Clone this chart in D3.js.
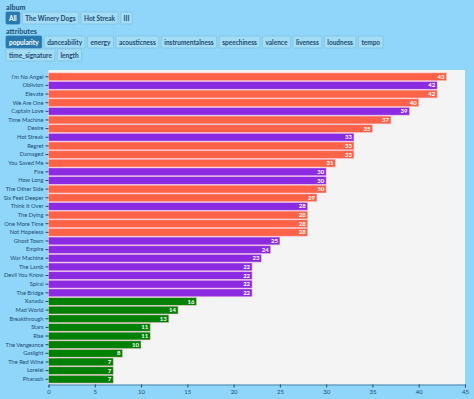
<!DOCTYPE html>
<html><head><meta charset="utf-8">
<script src="https://cdn.jsdelivr.net/npm/d3@7"></script>
<style>
html,body{margin:0;padding:0;background:#8fd6fa;}
svg{display:block;font-family:Lato,"Noto Sans",sans-serif;}
</style></head><body>
<svg id="c" width="474" height="399"></svg>
<script>
const songs = ["I'm No Angel","Oblivion","Elevate","We Are One","Captain Love","Time Machine","Desire","Hot Streak","Regret","Damaged","You Saved Me","Fire","How Long","The Other Side","Six Feet Deeper","Think It Over","The Dying","One More Time","Not Hopeless","Ghost Town","Empire","War Machine","The Lamb","Devil You Know","Spiral","The Bridge","Xanadu","Mad World","Breakthrough","Stars","Rise","The Vengeance","Gaslight","The Red Wine","Lorelei","Pharaoh"];
const popularity = [43,42,42,40,39,37,35,33,33,33,31,30,30,30,29,28,28,28,28,25,24,23,22,22,22,22,16,14,13,11,11,10,8,7,7,7];
const albums = ["The Winery Dogs","Hot Streak","The Winery Dogs","The Winery Dogs","Hot Streak","The Winery Dogs","The Winery Dogs","Hot Streak","The Winery Dogs","The Winery Dogs","The Winery Dogs","Hot Streak","Hot Streak","The Winery Dogs","The Winery Dogs","Hot Streak","The Winery Dogs","The Winery Dogs","The Winery Dogs","Hot Streak","Hot Streak","Hot Streak","Hot Streak","Hot Streak","Hot Streak","Hot Streak","III","III","III","III","III","III","III","III","III","III"];
const albumNames = ["The Winery Dogs","Hot Streak","III"];
const albumColors = ["#ff6347","#8a2be2","#008000"];
const albumButtons = ["All","The Winery Dogs","Hot Streak","III"];
const attrRow1 = ["popularity","danceability","energy","acousticness","instrumentalness","speechiness","valence","liveness","loudness","tempo"];
const attrRow2 = ["time_signature","length"];
const xTicks = [0,5,10,15,20,25,30,35,40,45];

const data = songs.map((s,i)=>({song:s,value:popularity[i],album:albums[i]}));
const svg = d3.select("#c");
const textCol = "#1d4a72";

// controls
function buttonRow(labels, x0, y0, selected){
  let x = x0;
  labels.forEach(l=>{
    const g = svg.append("g");
    const t = g.append("text").attr("x",x+3).attr("y",y0+8.7).attr("font-size",6.5).attr("font-weight","bold")
      .attr("fill", l===selected?"#fff":textCol).text(l);
    const w = t.node().getComputedTextLength()+6;
    g.insert("rect","text").attr("x",x).attr("y",y0).attr("width",w).attr("height",12)
      .attr("rx",1).attr("fill", l===selected?"#2a78b0":"#a3dcf5").attr("stroke", l===selected?"#2a78b0":"#7fc3e6").attr("stroke-width",0.8);
    x += w+2.5;
  });
}
svg.append("text").attr("x",6).attr("y",10).attr("font-size",7.2).attr("font-weight","bold").attr("fill",textCol).text("album");
buttonRow(albumButtons,6,12,"All");
svg.append("text").attr("x",6).attr("y",34).attr("font-size",7.2).attr("font-weight","bold").attr("fill",textCol).text("attributes");
buttonRow(attrRow1,6,36,"popularity");
buttonRow(attrRow2,6,49,null);

// chart
const x = d3.scaleLinear().domain([0,45]).range([48.5,465]);
const y = d3.scaleBand().domain(songs).range([72,384]).padding(0.1);
const color = d3.scaleOrdinal().domain(albumNames).range(albumColors);

svg.append("rect").attr("x",48.5).attr("y",70).attr("width",465-48.5).attr("height",384.5-70).attr("fill","#f5f4f5");

svg.append("g").selectAll("rect").data(data).join("rect")
  .attr("x",x(0)).attr("y",d=>y(d.song)).attr("width",d=>x(d.value)-x(0)).attr("height",y.bandwidth())
  .attr("fill",d=>color(d.album)).attr("stroke","rgba(255,200,220,0.6)").attr("stroke-width",0.8);

svg.append("g").selectAll("text").data(data).join("text")
  .attr("x",d=>x(d.value)-2).attr("y",d=>y(d.song)+y.bandwidth()/2).attr("dy","0.35em")
  .attr("text-anchor","end").attr("font-size",6).attr("font-weight","bold").attr("fill","#fff").text(d=>d.value);

const yAxis = svg.append("g").attr("transform","translate(48.5,0)").call(d3.axisLeft(y).tickSize(3).tickPadding(2));
yAxis.select(".domain").remove();
yAxis.selectAll("text").attr("font-size",5.7).attr("fill",textCol).attr("font-family","Lato,'Noto Sans',sans-serif");
yAxis.selectAll("line").attr("stroke",textCol);

const xAxis = svg.append("g").attr("transform","translate(0,384.5)").call(d3.axisBottom(x).tickValues(xTicks).tickSize(3).tickPadding(2));
xAxis.select(".domain").attr("stroke",textCol).attr("stroke-width",0.6);
xAxis.selectAll("text").attr("font-size",6).attr("fill",textCol).attr("font-family","Lato,'Noto Sans',sans-serif");
xAxis.selectAll("line").attr("stroke",textCol);
</script>
</body></html>
